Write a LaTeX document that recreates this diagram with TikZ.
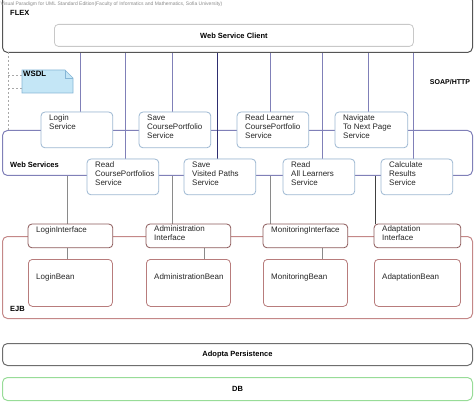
\documentclass[tikz,border=0pt]{standalone}
\usepackage{fontspec}
\setmainfont{Liberation Sans}
\definecolor{flexgray}{HTML}{555555}
\definecolor{clientgray}{HTML}{C8C8C8}
\definecolor{wsline}{HTML}{8080B8}
\definecolor{wsdark}{HTML}{2E2E70}
\definecolor{svcblue}{HTML}{9DB8D2}
\definecolor{itfred}{HTML}{8C5A5A}
\definecolor{ejbred}{HTML}{C48888}
\definecolor{beanred}{HTML}{B87C7C}
\definecolor{persgray}{HTML}{6E6E6E}
\definecolor{dbgreen}{HTML}{98DC98}
\definecolor{notefill}{HTML}{C4E6F6}
\definecolor{noteline}{HTML}{86B6D6}
\definecolor{dashgray}{HTML}{A8A8A8}
\definecolor{conngray}{HTML}{8A8A8A}
\begin{document}
\begin{tikzpicture}[x=1pt,y=-1pt,
  cont/.style={draw, fill=white, rounded corners=5pt, line width=1pt, anchor=north west, inner sep=0, minimum width=470pt},
  svc/.style={draw=svcblue, fill=white, rounded corners=4pt, line width=0.8pt, minimum width=71pt, minimum height=35pt, anchor=north west, inner sep=0},
  itf/.style={draw=itfred, fill=white, rounded corners=4pt, line width=0.8pt, minimum width=84pt, minimum height=23pt, anchor=north west, inner sep=0},
  bean/.style={draw=beanred, fill=white, rounded corners=4pt, line width=0.8pt, minimum width=84pt, minimum height=47pt, anchor=north west, inner sep=0},
  txt/.style={font=\fontsize{8}{9}\selectfont, align=left, anchor=north west, inner sep=0, text=black!85},
  btxt/.style={font=\fontsize{7.5}{9}\selectfont\bfseries, inner sep=0},
  vline/.style={draw=wsline, line width=0.8pt},
  gline/.style={draw=conngray, line width=0.8pt},
  bline/.style={draw=conngray, line width=0.8pt}
]
\useasboundingbox (0,0) rectangle (474,409);
% containers
\node[cont, draw=flexgray, minimum height=57pt] (flex) at (2,-5) {};
\node[cont, draw=wsline, minimum height=45pt] (ws) at (2,130) {};
\node[cont, draw=ejbred, minimum height=82pt] (ejb) at (2,236) {};
\node[cont, draw=persgray, minimum height=22pt] (pers) at (2,343) {};
\node[cont, draw=dbgreen, minimum height=23pt] (db) at (2,377) {};
\node[btxt] (perst) at (pers.center) {Adopta Persistence};
\node[btxt] (dbt) at (db.center) {DB};

% caption and labels
\node[font=\fontsize{5}{5}\selectfont, text=black!45, anchor=west, inner sep=0] (cap) at (0.5,4) {Visual Paradigm for UML Standard Edition(Faculty of Informatics and Mathematics, Sofia University)};
\node[btxt, anchor=west] (flexl) at (10,12.5) {FLEX};
\node[draw=clientgray, fill=white, rounded corners=4pt, line width=0.8pt, minimum width=359pt, minimum height=22pt, anchor=north west, inner sep=0] (client) at (54,24) {};
\node[btxt] (clientt) at (client.center) {Web Service Client};
\node[btxt, anchor=west] (wsl) at (10,165) {Web Services};
\node[btxt, anchor=west] (ejbl) at (10,309) {EJB};
\node[btxt, font=\fontsize{7}{9}\selectfont\bfseries] (soap) at (450,82) {SOAP/HTTP};

% WSDL note
\coordinate (d0) at (8,52);
\coordinate (d1) at (8,130);
\coordinate (na) at (22,75);
\coordinate (nb) at (22,88);
\draw[dashgray, dashed, dash pattern=on 2pt off 2pt, line width=0.7pt] (d0) -- (d1);
\draw[dashgray, dash pattern=on 2pt off 2pt, line width=0.7pt] (d0 |- na) -- (na);
\draw[dashgray, dash pattern=on 2pt off 2pt, line width=0.7pt] (d0 |- nb) -- (nb);
\draw[noteline, fill=notefill, line width=0.7pt] (22,70) -- (65,70) -- (73,78) -- (73,93) -- (22,93) -- cycle;
\draw[noteline, line width=0.7pt] (65,70) -- (65,78) -- (73,78);
\node[btxt, anchor=north west, font=\fontsize{7.8}{9}\selectfont\bfseries] (wsdl) at (23,71) {WSDL};

% services row 1
\node[svc] (s1) at (41,112) {};
\node[svc] (s2) at (139,112) {};
\node[svc] (s3) at (237,112) {};
\node[svc, minimum width=72pt] (s4) at (335,112) {};
% services row 2
\node[svc] (r1) at (87,159) {};
\node[svc] (r2) at (184,159) {};
\node[svc] (r3) at (283,159) {};
\node[svc] (r4) at (381,159) {};

% vertical lines from FLEX
\foreach \n/\dx in {s1/3.5,s2/-2.5,s3/-2.5,r1/2.5,r3/3.5,r4/-3.5,s4/-3.5}{
  \draw[vline] ([xshift=\dx pt]\n.north) -- ([xshift=\dx pt]\n.north |- flex.south);
}
\draw[draw=wsdark, line width=0.8pt] ([xshift=-2.5pt]r2.north) -- ([xshift=-2.5pt]r2.north |- flex.south);
% redraw services on top
\foreach \n in {s1,s2,s3,s4,r1,r2,r3,r4}{
  \draw[svcblue, fill=white, rounded corners=4pt, line width=0.8pt] (\n.north west) rectangle (\n.south east);
}
\node[txt] (s1t) at ([xshift=8pt,yshift=-3pt]s1.north west) {Login\\Service};
\node[txt] (s2t) at ([xshift=8pt,yshift=-3pt]s2.north west) {Save\\CoursePortfolio\\Service};
\node[txt] (s3t) at ([xshift=8pt,yshift=-3pt]s3.north west) {Read Learner\\CoursePortfolio\\Service};
\node[txt] (s4t) at ([xshift=8pt,yshift=-3pt]s4.north west) {Navigate\\To Next Page\\Service};
\node[txt] (r1t) at ([xshift=8pt,yshift=-3pt]r1.north west) {Read\\CoursePortfolios\\Service};
\node[txt] (r2t) at ([xshift=8pt,yshift=-3pt]r2.north west) {Save\\Visited Paths\\Service};
\node[txt] (r3t) at ([xshift=8pt,yshift=-3pt]r3.north west) {Read\\All Learners\\Service};
\node[txt] (r4t) at ([xshift=8pt,yshift=-3pt]r4.north west) {Calculate\\Results\\Service};

% interfaces
\node[itf] (i1) at (28,224) {};
\node[itf] (i2) at (146,224) {};
\node[itf] (i3) at (263,224) {};
\node[itf, minimum width=86pt] (i4) at (374,224) {};
% beans
\node[bean] (b1) at (28,259) {};
\node[bean] (b2) at (146,259) {};
\node[bean] (b3) at (263,259) {};
\node[bean, minimum width=86pt] (b4) at (374,259) {};

% lines from Web Services to interfaces
\draw[gline] ([xshift=39pt]i1.north west) -- ([xshift=39pt]i1.north west |- ws.south);
\draw[gline] ([xshift=26pt]i2.north west) -- ([xshift=26pt]i2.north west |- ws.south);
\draw[gline] ([xshift=7pt]i3.north west) -- ([xshift=7pt]i3.north west |- ws.south);
\draw[draw=black!75, line width=0.8pt] ([xshift=1.5pt]i4.north west) -- ([xshift=1.5pt]i4.north west |- ws.south);
% interface to bean
\draw[bline] ([xshift=-3pt]i1.south) -- ([xshift=-3pt]b1.north);
\draw[bline] ([xshift=16pt]i2.south) -- ([xshift=16pt]b2.north);
\draw[bline] ([xshift=16.5pt]i3.south) -- ([xshift=16.5pt]b3.north);
\foreach \n in {i1,i2,i3,i4}{
  \draw[itfred, fill=white, rounded corners=4pt, line width=0.8pt] (\n.north west) rectangle (\n.south east);
}
\node[txt] (i1t) at ([xshift=8pt,yshift=-3pt]i1.north west) {LoginInterface};
\node[txt] (i2t) at ([xshift=8pt,yshift=-2pt]i2.north west) {Administration\\Interface};
\node[txt] (i3t) at ([xshift=8pt,yshift=-3pt]i3.north west) {MonitoringInterface};
\node[txt] (i4t) at ([xshift=8pt,yshift=-2pt]i4.north west) {Adaptation\\Interface};
\node[txt, anchor=west] (b1t) at ([xshift=8pt,yshift=-18pt]b1.north west) {LoginBean};
\node[txt, anchor=west] (b2t) at ([xshift=8pt,yshift=-18pt]b2.north west) {AdministrationBean};
\node[txt, anchor=west] (b3t) at ([xshift=8pt,yshift=-18pt]b3.north west) {MonitoringBean};
\node[txt, anchor=west] (b4t) at ([xshift=8pt,yshift=-18pt]b4.north west) {AdaptationBean};
\end{tikzpicture}
\end{document}
